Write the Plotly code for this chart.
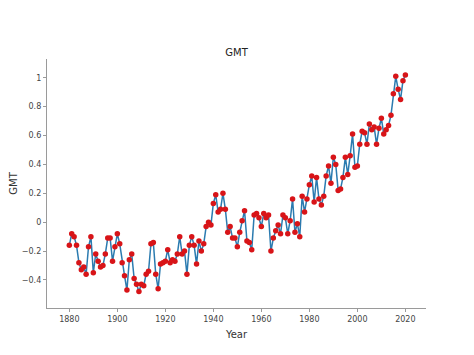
import plotly.graph_objects as go

years = list(range(1880, 2021))
gmt = [
    -0.16, -0.08, -0.10, -0.16, -0.28, -0.33, -0.31, -0.36, -0.17, -0.10,
    -0.35, -0.22, -0.27, -0.31, -0.30, -0.22, -0.11, -0.11, -0.27, -0.17,
    -0.08, -0.15, -0.28, -0.37, -0.47, -0.26, -0.22, -0.39, -0.43, -0.48,
    -0.43, -0.44, -0.36, -0.34, -0.15, -0.14, -0.36, -0.46, -0.29, -0.28,
    -0.27, -0.19, -0.28, -0.26, -0.27, -0.22, -0.10, -0.22, -0.20, -0.36,
    -0.16, -0.10, -0.16, -0.29, -0.13, -0.20, -0.15, -0.03, -0.00, -0.02,
    0.13, 0.19, 0.07, 0.09, 0.20, 0.09, -0.07, -0.03, -0.11, -0.11,
    -0.17, -0.07, 0.01, 0.08, -0.13, -0.14, -0.19, 0.05, 0.06, 0.03,
    -0.03, 0.06, 0.03, 0.05, -0.20, -0.11, -0.06, -0.02, -0.08, 0.05,
    0.03, -0.08, 0.01, 0.16, -0.07, -0.01, -0.10, 0.18, 0.07, 0.16,
    0.26, 0.32, 0.14, 0.31, 0.16, 0.12, 0.18, 0.32, 0.39, 0.27,
    0.45, 0.40, 0.22, 0.23, 0.31, 0.45, 0.33, 0.46, 0.61, 0.38,
    0.39, 0.54, 0.63, 0.62, 0.54, 0.68, 0.64, 0.66, 0.54, 0.65,
    0.72, 0.61, 0.64, 0.67, 0.74, 0.89, 1.01, 0.92, 0.85, 0.98,
    1.02,
]

x_ticks = [1880, 1900, 1920, 1940, 1960, 1980, 2000, 2020]
y_ticks = [-0.4, -0.2, 0, 0.2, 0.4, 0.6, 0.8, 1]
y_tick_labels = ["\u22120.4", "\u22120.2", "0", "0.2", "0.4", "0.6", "0.8", "1"]

fig = go.Figure(
    go.Scatter(
        x=years, y=gmt, mode="lines+markers",
        line=dict(color="#2b7bb0", width=1.5),
        marker=dict(color="#d81418", size=5.5),
    )
)

axis_common = dict(
    showline=True, linecolor="#9a9a9a", linewidth=1.3,
    ticks="outside", tickcolor="#9a9a9a", ticklen=3, tickwidth=1,
    showgrid=False, zeroline=False, automargin=False,
    tickfont=dict(size=8, color="#444"),
    title_font=dict(size=10, color="#333"),
)

fig.update_layout(
    width=474, height=355,
    paper_bgcolor="white", plot_bgcolor="white",
    font=dict(family="DejaVu Sans, Verdana, sans-serif", color="#333"),
    margin=dict(l=39, r=56, t=51, b=55),
    showlegend=False,
    title=dict(text="GMT", x=0.5, xanchor="center", xref="paper",
               y=1 - 44.3 / 355, yref="container", yanchor="middle",
               font=dict(size=10, color="#222")),
    xaxis=dict(range=[1870.7, 2028.6], tickvals=x_ticks,
               title=dict(text="Year", standoff=8), **axis_common),
    yaxis=dict(range=[-0.594, 1.13], tickvals=y_ticks, ticktext=y_tick_labels,
               title=dict(text="GMT", standoff=8), **axis_common),
)

fig.write_html("out.html")
